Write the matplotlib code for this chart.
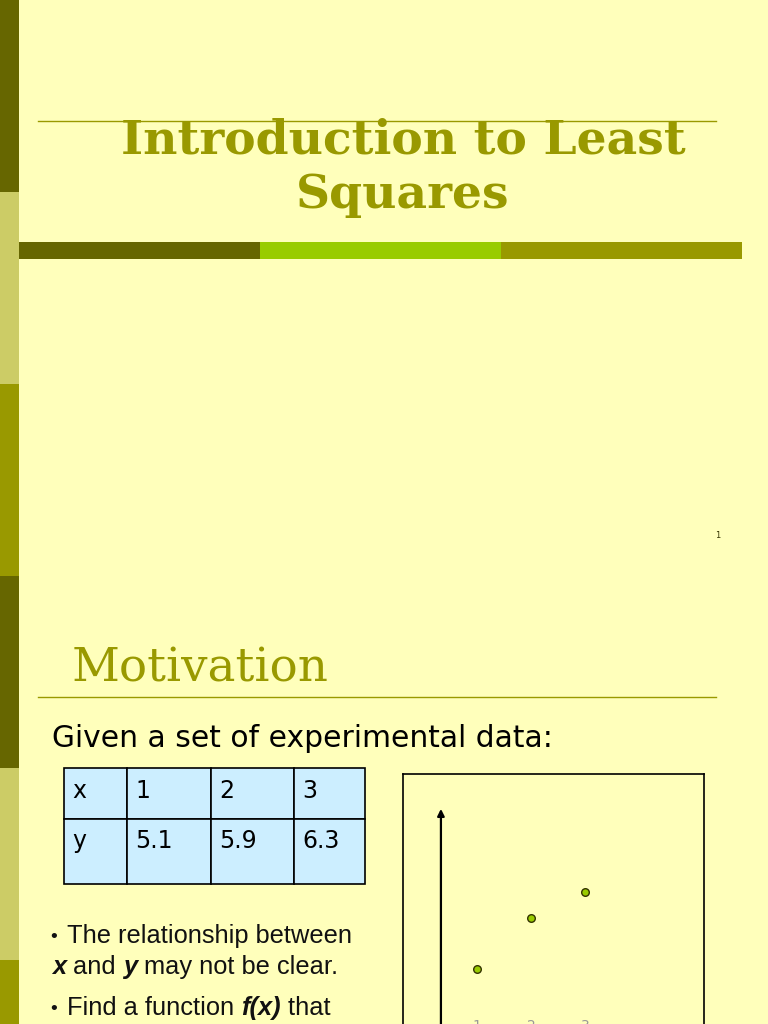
import numpy as np
import matplotlib.pyplot as plt
from matplotlib.patches import Rectangle

# ----------------------------------------------------------
# data
x_vals = [1, 2, 3]
y_vals = [5.1, 5.9, 6.3]

title_lines = ['Introduction to Least', 'Squares']
slide2_title = 'Motivation'
intro_text = 'Given a set of experimental data:'
page_num = '1'

# theme colours
bg_col = '#FFFFBB'
stripe_cols = ['#666600', '#CCCC66', '#999900']
bar_cols = ['#666600', '#99CC00', '#999900']
olive = '#999900'
cell_col = '#CCEEFF'
dot_col = '#99CC00'

fig = plt.figure(figsize=(7.68, 10.24), dpi=100)
fig.patch.set_facecolor(bg_col)

# full page axes, one unit = one pixel
ax = fig.add_axes([0, 0, 1, 1])
ax.set_xlim(0, 768)
ax.set_ylim(1024, 0)
ax.axis('off')

#
# left stripe
for i in range(6):
    ax.add_patch(Rectangle((0, i*192), 19, 192, color=stripe_cols[i % 3], lw=0))

# -----------------------------------------------------------------
# -- slide 1                                                     --
# -----------------------------------------------------------------
ax.plot([38, 716], [121, 121], color=olive, lw=1)
ax.text(403, 153, title_lines[0], ha='center', va='baseline', color=olive,
        family='DejaVu Serif', weight='bold', fontsize=34)
ax.text(403, 208, title_lines[1], ha='center', va='baseline', color=olive,
        family='DejaVu Serif', weight='bold', fontsize=34)

for i in range(3):
    ax.add_patch(Rectangle((19 + i*241, 242), 241, 17, color=bar_cols[i], lw=0))

ax.text(718, 535, page_num, ha='center', va='center', fontsize=6, color='#333300')

# -----------------------------------------------------------------
# -- slide 2                                                     --
# -----------------------------------------------------------------
ax.text(72, 682, slide2_title, ha='left', va='baseline', color=olive,
        family='DejaVu Serif', fontsize=33.7)
ax.plot([38, 716], [697, 697], color=olive, lw=1)
ax.text(52, 747, intro_text, ha='left', va='baseline', color='black',
        family='DejaVu Sans', fontsize=21.4)

#
# data table
col_edges = [64, 127, 211, 294, 365]
row_edges = [768, 819, 884]
rows = [['x'] + [str(v) for v in x_vals],
        ['y'] + [str(v) for v in y_vals]]
base = [798, 848]
for r in range(2):
    for c in range(4):
        ax.add_patch(Rectangle((col_edges[c], row_edges[r]),
                               col_edges[c+1] - col_edges[c],
                               row_edges[r+1] - row_edges[r],
                               facecolor=cell_col, edgecolor='black', lw=1.2))
        ax.text(col_edges[c] + 8, base[r], rows[r][c], ha='left', va='baseline',
                family='DejaVu Sans', fontsize=17, color='black')

#
# bullet text with mixed styles
rend = fig.canvas.get_renderer()


def write_runs(x, y, runs, size=18.3):
    for txt, style in runs:
        kw = dict(family='Liberation Sans', fontsize=size, color='#111111',
                  ha='left', va='baseline')
        if style == 'bi':
            kw.update(weight='bold', style='italic')
        t = ax.text(x, y, txt, **kw)
        x += t.get_window_extent(renderer=rend).width


bul_kw = dict(family='Liberation Sans', fontsize=14, color='#111111', va='baseline')
ax.text(50, 942, u'\u2022', **bul_kw)
write_runs(67, 943, [('The relationship between', 'n')])
write_runs(52, 974, [('x', 'bi'), (' and ', 'n'), ('y', 'bi'), (' may not be clear.', 'n')])
ax.text(50, 1014, u'\u2022', **bul_kw)
write_runs(67, 1015, [('Find a function ', 'n'), ('f(x)', 'bi'), (' that', 'n')])

#
# sketch of the data points
sx = fig.add_axes([403/768, -50/1024, 301/768, 300/1024])
sx.set_facecolor('none')
sx.set_xlim(-0.370, 5.204)
sx.set_ylim(3.464, 8.138)
sx.set_xticks([])
sx.set_yticks([])
for s in sx.spines.values():
    s.set_color('black')
    s.set_linewidth(1.2)
sx.annotate('', xy=(0.126, 0.893), xytext=(0.126, 0.0), xycoords='axes fraction',
            arrowprops=dict(arrowstyle='-|>', color='black', lw=1.6, mutation_scale=10))
sx.scatter(x_vals, y_vals, s=30, c=dot_col, edgecolors='#333300', linewidths=1, zorder=3)
for v in x_vals:
    sx.text(v, 0.183, str(v), transform=sx.get_xaxis_transform(), ha='center', va='top',
            fontsize=10, color='#999999')

fig.savefig('out.png', dpi=100, facecolor=bg_col)
plt.close()
